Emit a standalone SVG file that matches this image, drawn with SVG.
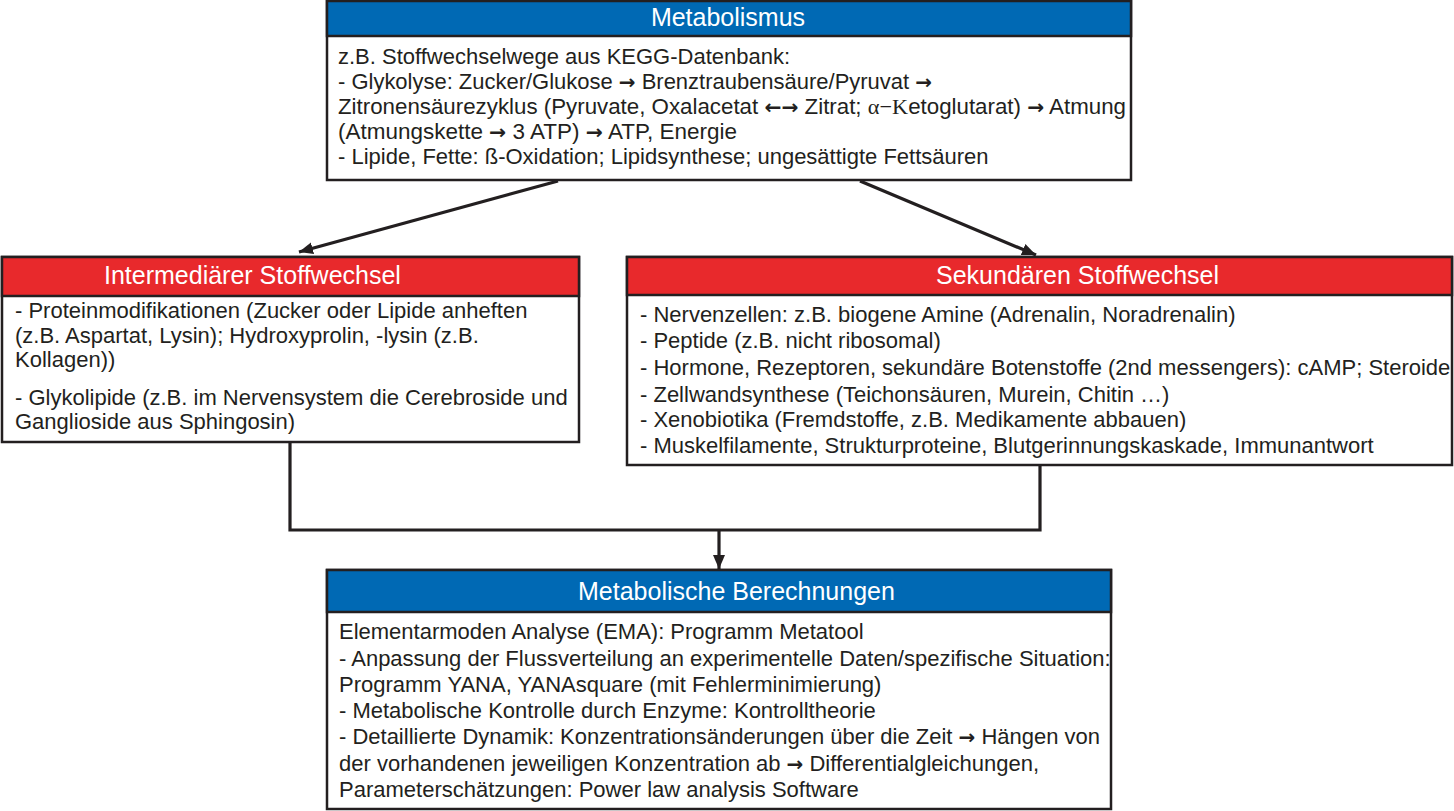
<svg xmlns="http://www.w3.org/2000/svg" width="1454" height="811" viewBox="0 0 1454 811">
<style>
.box{fill:#ffffff;stroke:#231f20;stroke-width:2.5}
.hb{fill:#0069b4;stroke:#231f20;stroke-width:2.5}
.hr{fill:#e8292c;stroke:#231f20;stroke-width:2.5}
.t{font-family:"Liberation Sans",Arial,sans-serif;font-size:25px;fill:#ffffff}
.b{font-family:"Liberation Sans",Arial,sans-serif;font-size:22px;fill:#231f20}
.s{font-family:"Liberation Serif","Times New Roman",serif}
.a{font-family:"DejaVu Sans",sans-serif;font-weight:bold;font-size:20px}
.c{fill:none;stroke:#231f20;stroke-width:3.2}
</style>
<defs>
<marker id="ah" markerUnits="userSpaceOnUse" markerWidth="16" markerHeight="14" refX="14" refY="7" orient="auto">
<path d="M0,1 L14,7 L0,13 Z" fill="#231f20"/>
</marker>
</defs>
<rect width="1454" height="811" fill="#ffffff"/>
<g id="connectors">
<line class="c" x1="558" y1="181" x2="299" y2="252" marker-end="url(#ah)"/>
<line class="c" x1="860" y1="181" x2="1036" y2="255" marker-end="url(#ah)"/>
<path class="c" d="M290,443 V530 H1040 V466"/>
<line class="c" x1="719" y1="530" x2="719" y2="569" marker-end="url(#ah)"/>
</g>
<g id="metabolismus">
<rect class="box" x="327" y="1" width="804" height="179"/>
<rect class="hb" x="327" y="1" width="804" height="35"/>
<text class="t" x="728" y="26" text-anchor="middle">Metabolismus</text>
<text class="b" x="338" y="64">z.B. Stoffwechselwege aus KEGG-Datenbank:</text>
<text class="b" x="338" y="89" textLength="594" lengthAdjust="spacingAndGlyphs">- Glykolyse: Zucker/Glukose <tspan class="a">→</tspan> Brenztraubensäure/Pyruvat <tspan class="a">→</tspan></text>
<text class="b" x="338" y="114" textLength="788" lengthAdjust="spacingAndGlyphs">Zitronensäurezyklus (Pyruvate, Oxalacetat <tspan class="a">←→</tspan> Zitrat; <tspan class="s">α−K</tspan>etoglutarat) <tspan class="a">→</tspan> Atmung</text>
<text class="b" x="338" y="139" textLength="399" lengthAdjust="spacingAndGlyphs">(Atmungskette <tspan class="a">→</tspan> 3 ATP) <tspan class="a">→</tspan> ATP, Energie</text>
<text class="b" x="338" y="164">- Lipide, Fette: ß-Oxidation; Lipidsynthese; ungesättigte Fettsäuren</text>
</g>
<g id="intermediaer">
<rect class="box" x="2" y="257" width="577" height="185"/>
<rect class="hr" x="2" y="257" width="577" height="39"/>
<text class="t" x="104" y="284">Intermediärer Stoffwechsel</text>
<text class="b" x="15" y="318">- Proteinmodifikationen (Zucker oder Lipide anheften</text>
<text class="b" x="15" y="343">(z.B. Aspartat, Lysin); Hydroxyprolin, -lysin (z.B.</text>
<text class="b" x="15" y="367">Kollagen))</text>
<text class="b" x="15" y="405">- Glykolipide (z.B. im Nervensystem die Cerebroside und</text>
<text class="b" x="15" y="429">Ganglioside aus Sphingosin)</text>
</g>
<g id="sekundaer">
<rect class="box" x="627" y="257" width="825" height="208"/>
<rect class="hr" x="627" y="257" width="825" height="38"/>
<text class="t" x="936" y="284">Sekundären Stoffwechsel</text>
<text class="b" x="640" y="322">- Nervenzellen: z.B. biogene Amine (Adrenalin, Noradrenalin)</text>
<text class="b" x="640" y="348">- Peptide (z.B. nicht ribosomal)</text>
<text class="b" x="640" y="375">- Hormone, Rezeptoren, sekundäre Botenstoffe (2nd messengers): cAMP; Steroide</text>
<text class="b" x="640" y="402">- Zellwandsynthese (Teichonsäuren, Murein, Chitin …)</text>
<text class="b" x="640" y="427">- Xenobiotika (Fremdstoffe, z.B. Medikamente abbauen)</text>
<text class="b" x="640" y="453">- Muskelfilamente, Strukturproteine, Blutgerinnungskaskade, Immunantwort</text>
</g>
<g id="berechnungen">
<rect class="box" x="327" y="570" width="784" height="239"/>
<rect class="hb" x="327" y="570" width="784" height="42"/>
<text class="t" x="578" y="600">Metabolische Berechnungen</text>
<text class="b" x="339" y="639">Elementarmoden Analyse (EMA): Programm Metatool</text>
<text class="b" x="339" y="666">- Anpassung der Flussverteilung an experimentelle Daten/spezifische Situation:</text>
<text class="b" x="339" y="692">Programm YANA, YANAsquare (mit Fehlerminimierung)</text>
<text class="b" x="339" y="718">- Metabolische Kontrolle durch Enzyme: Kontrolltheorie</text>
<text class="b" x="339" y="744" textLength="761" lengthAdjust="spacingAndGlyphs">- Detaillierte Dynamik: Konzentrationsänderungen über die Zeit <tspan class="a">→</tspan> Hängen von</text>
<text class="b" x="339" y="771" textLength="700" lengthAdjust="spacingAndGlyphs">der vorhandenen jeweiligen Konzentration ab <tspan class="a">→</tspan> Differentialgleichungen,</text>
<text class="b" x="339" y="797">Parameterschätzungen: Power law analysis Software</text>
</g>
</svg>
